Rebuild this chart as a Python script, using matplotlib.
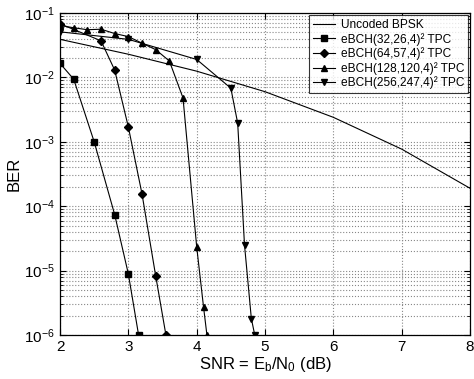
import matplotlib
matplotlib.use("Agg")
import matplotlib.pyplot as plt
from matplotlib.ticker import LogLocator

plt.rcParams['font.family'] = ['Liberation Sans', 'DejaVu Sans']
plt.rcParams['mathtext.fontset'] = 'custom'
plt.rcParams['mathtext.rm'] = 'Liberation Sans'
plt.rcParams['mathtext.it'] = 'Liberation Sans'

snr_unc = [2, 3, 4, 5, 6, 7, 8]
ber_unc = [0.039, 0.0229, 0.0125, 0.006, 0.0024, 0.00077, 0.00019]

snr_32 = [2.0, 2.2, 2.5, 2.8, 3.0, 3.15]
ber_32 = [0.0165, 0.0094, 0.001, 7.4e-5, 8.9e-6, 1e-6]

snr_64 = [2.0, 2.6, 2.8, 3.0, 3.2, 3.4, 3.55]
ber_64 = [0.068, 0.037, 0.013, 0.0017, 1.55e-4, 8.3e-6, 1e-6]

snr_128 = [2.0, 2.2, 2.4, 2.6, 2.8, 3.0, 3.2, 3.4, 3.6, 3.8, 4.0, 4.1, 4.15]
ber_128 = [0.064, 0.059, 0.055, 0.056, 0.048, 0.043, 0.034, 0.027, 0.018, 0.0048, 2.35e-5, 2.75e-6, 1e-6]

snr_256 = [2.0, 3.0, 4.0, 4.5, 4.6, 4.7, 4.8, 4.85]
ber_256 = [0.051, 0.039, 0.019, 0.0068, 0.00195, 2.5e-5, 1.8e-6, 1e-6]

labels = ['Uncoded BPSK',
          'eBCH(32,26,4)\u00b2 TPC',
          'eBCH(64,57,4)\u00b2 TPC',
          'eBCH(128,120,4)\u00b2 TPC',
          'eBCH(256,247,4)\u00b2 TPC']

fig = plt.figure(figsize=(4.74, 3.79), dpi=100)
ax = fig.add_axes([0.1266, 0.116, 0.865, 0.8497])

ax.semilogy(snr_unc, ber_unc, '-', color='black', lw=0.8, label=labels[0])
ax.semilogy(snr_32, ber_32, '-s', color='black', lw=0.8, ms=4, label=labels[1])
ax.semilogy(snr_64, ber_64, '-D', color='black', lw=0.8, ms=4, label=labels[2])
ax.semilogy(snr_128, ber_128, '-^', color='black', lw=0.8, ms=5, label=labels[3])
ax.semilogy(snr_256, ber_256, '-v', color='black', lw=0.8, ms=5, label=labels[4])

ax.set_xlim(2, 8)
ax.set_ylim(1e-6, 1e-1)
ax.set_xticks([2, 3, 4, 5, 6, 7, 8])
ax.yaxis.set_major_locator(LogLocator(base=10, numticks=10))
ax.yaxis.set_minor_locator(LogLocator(base=10, subs=range(2, 10), numticks=20))
ax.yaxis.set_minor_formatter(matplotlib.ticker.NullFormatter())

ax.grid(True, which='major', axis='both', linestyle=':', color='#888888', lw=0.8)
ax.grid(True, which='minor', axis='y', linestyle=':', color='#888888', lw=0.8)

ax.tick_params(which='both', direction='in', top=True, right=True, labelsize=11)
ax.tick_params(which='major', length=4)
ax.tick_params(which='minor', length=2)
for s in ax.spines.values():
    s.set_linewidth(0.9)

ax.set_xlabel(r'SNR = E$_\mathregular{b}$/N$_\mathregular{0}$ (dB)', fontsize=12, labelpad=1)
ax.set_ylabel('BER', fontsize=12, labelpad=2)

leg = ax.legend(loc='upper right', fontsize=8.6, frameon=True, fancybox=False,
                edgecolor='black', borderpad=0.3, labelspacing=0.15,
                handlelength=1.8, handletextpad=0.5, borderaxespad=0.2)
leg.get_frame().set_linewidth(0.8)

fig.savefig('out.png', dpi=100)
